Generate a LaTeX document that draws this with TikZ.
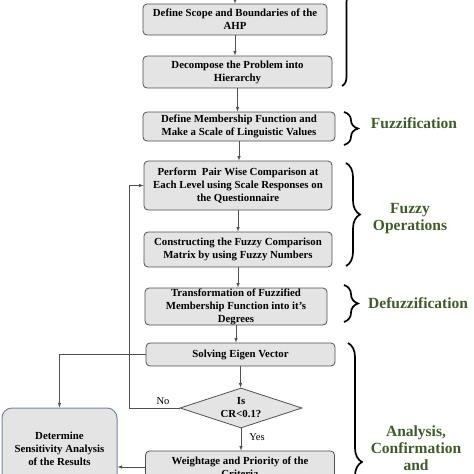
\documentclass[tikz,border=0pt]{standalone}
\usepackage{fontspec}
\setmainfont{Liberation Serif}
\usepackage{tikz}
\usetikzlibrary{arrows,shapes,positioning,decorations.pathreplacing}
\definecolor{boxfill}{HTML}{E4E4E4}
\definecolor{boxline}{HTML}{505050}
\definecolor{sensline}{HTML}{7585A5}
\definecolor{phasegreen}{HTML}{3E5C28}
\tikzstyle{stepbox} = [draw=boxline, rectangle, rounded corners=4pt, fill=boxfill,
    line width=0.8pt, align=center, inner sep=1pt,
    font=\fontsize{10.8}{13}\selectfont\bfseries]
\tikzstyle{resultbox} = [stepbox, draw=sensline, rounded corners=10pt, line width=1pt]
\tikzstyle{decision} = [draw=boxline, diamond, fill=boxfill, line width=0.8pt,
    inner sep=0pt, minimum width=122pt, minimum height=40pt]
\tikzstyle{steptext} = [align=center, inner sep=0pt, font=\fontsize{10.8}{13}\selectfont\bfseries]
\tikzstyle{smalltext} = [inner sep=0pt, font=\fontsize{10.5}{12}\selectfont]
\tikzstyle{line} = [draw=boxline, line width=0.6pt, -latex]
\tikzstyle{phase} = [text=phasegreen, align=center, inner sep=0pt,
    font=\fontsize{15.5}{17}\selectfont\bfseries]
\tikzstyle{bracket} = [draw=black, line width=1.7pt, decorate,
    decoration={brace, amplitude=14pt}]

\begin{document}
\begin{tikzpicture}[x=1pt, y=-1pt]
  \useasboundingbox (0,0) rectangle (474,474);
  \clip (0,0) rectangle (474,474);
  % Place nodes
  \coordinate (start) at (235,-6);
  \node [stepbox, minimum width=184pt, minimum height=31pt] (scope) at (235,19.5) {Define Scope and Boundaries of the\\AHP};
  \node [stepbox, minimum width=189pt, minimum height=32pt] (decompose) at (237.5,72) {Decompose the Problem into\\Hierarchy};
  \node [stepbox, minimum width=192pt, minimum height=29pt] (membership) at (239,126.5) {Define Membership Function and\\Make a Scale of Linguistic Values};
  \node [stepbox, minimum width=188pt, minimum height=49pt] (perform) at (238,185.5) {Perform\ \ Pair Wise Comparison at\\Each Level using Scale Responses on\\the Questionnaire};
  \node [stepbox, minimum width=188pt, minimum height=35pt] (construct) at (238,249.5) {Constructing the Fuzzy Comparison\\Matrix by using Fuzzy Numbers};
  \node [stepbox, minimum width=182pt, minimum height=37pt, inner sep=0pt] (transform) at (236,306.5) {Transformation of Fuzzified\\Membership Function into it's\\Degrees};
  \node [stepbox, minimum width=189pt, minimum height=23pt] (eigen) at (240.5,354.5) {Solving Eigen Vector};
  \node [decision] (check) at (241,408) {};
  \node [steptext] (checktext) at (check) {Is\\CR<0.1?};
  \node [stepbox, minimum width=189pt, minimum height=32pt] (weight) at (240,467) {Weightage and Priority of the\\Criteria};
  \node [resultbox, minimum width=115pt, minimum height=82pt] (sensitivity) at (59.5,449) {Determine\\Sensitivity Analysis\\of the Results};
  \node [smalltext] (no) at (163,401) {No};
  \node [smalltext] (yes) at (257,437) {Yes};
  % Phases
  \node [phase] (fuzzification) at (414,123) {Fuzzification};
  \node [phase] (operations) at (410,219) {Fuzzy\\Operations};
  \node [phase, anchor=west] (defuzzification) at (368,303) {Defuzzification};
  \node [phase] (analysis) at (416,448.5) {Analysis,\\Confirmation\\and};
  % Connectors
  \draw [line] (start) -- (scope);
  \draw [line] (scope.south) -- (scope.south |- decompose.north);
  \draw [line] (decompose.south) -- (decompose.south |- membership.north);
  \draw [line] (membership.south) -- (membership.south |- perform.north);
  \draw [line] (perform.south) -- (perform.south |- construct.north);
  \draw [line] (construct.south) -- (construct.south |- transform.north);
  \draw [line] (transform.south) -- (transform.south |- eigen.north);
  \draw [line] (eigen.south) -- (eigen.south |- check.north);
  \draw [line] (check.south) -- (check.south |- weight.north);
  \draw [line] (check.west) -- ++(-50,0) |- (perform.west);
  \draw [line] (eigen.west) -| (sensitivity.north);
  \draw [line] (weight.west) -- (weight.west -| sensitivity.east);
  % Braces
  \draw [bracket, decoration={amplitude=9pt}] (342,-100) -- (342,86);
  \draw [bracket] (344,112) -- (344,145);
  \draw [bracket] (346,163) -- (346,266);
  \draw [bracket] (344,285) -- (344,322);
  \draw [bracket] (348,343) -- (348,581);
\end{tikzpicture}
\end{document}
